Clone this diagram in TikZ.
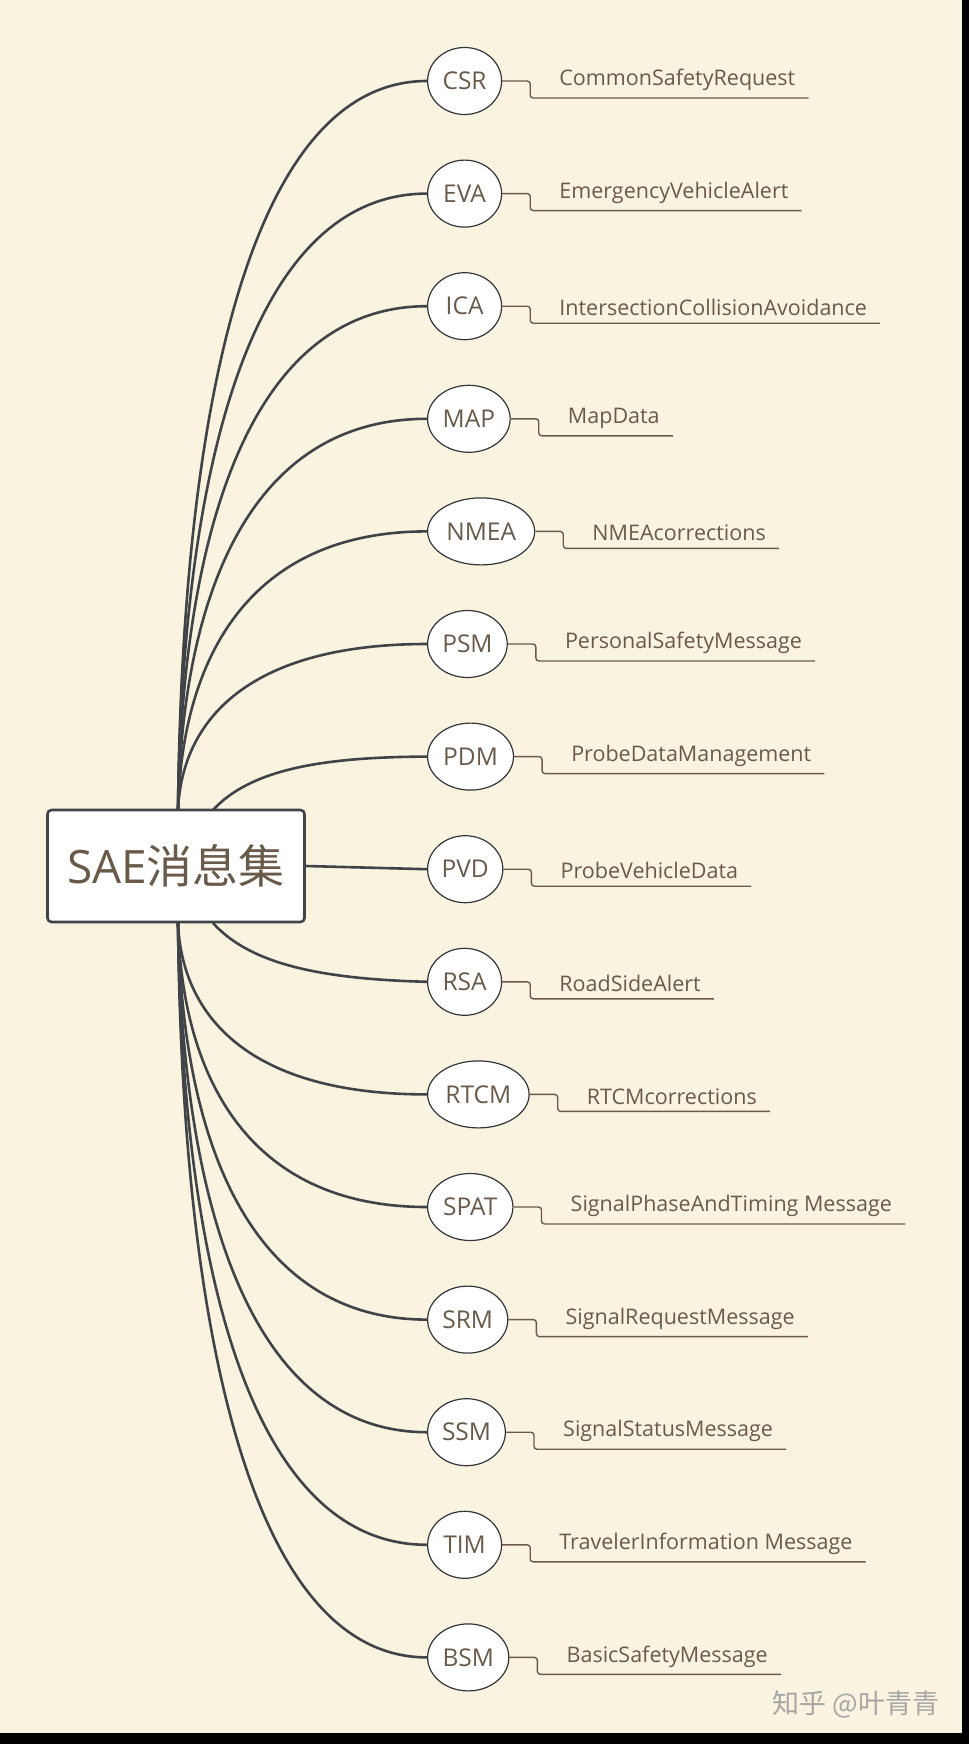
\documentclass[tikz,border=0pt]{standalone}
\usetikzlibrary{shapes.geometric}
\usepackage{fontspec}
\setmainfont{Open Sans}
\newfontfamily\cjk{Noto Sans CJK SC}
\begin{document}
\begin{tikzpicture}[x=1pt,y=-1pt,
  every node/.style={font=\fontsize{24.5}{26}\selectfont},
  leaf/.style={ellipse,draw=linec!80!black,line width=1.2pt,fill=white,text=textc,minimum height=67pt,minimum width=74pt,inner xsep=3pt,anchor=west},
  lab/.style={text=textc,font=\fontsize{21.5}{24}\selectfont,anchor=south west,inner xsep=0pt,inner ysep=7pt},
  branch/.style={draw=linec,line width=2.6pt},
  uline/.style={draw=textc,line width=1.4pt,rounded corners=3pt}]
\definecolor{bgc}{HTML}{FAF3DF}
\definecolor{textc}{HTML}{6A5A4A}
\definecolor{linec}{HTML}{404448}
\path[use as bounding box] (0,0) rectangle (969,1744);
\fill[bgc] (0,0) rectangle (969,1744);
\fill[black] (962,0) rectangle (969,1744);
\fill[black] (0,1733) rectangle (969,1744);
\node[draw=linec,line width=2.6pt,rounded corners=4pt,fill=white,text=textc,minimum width=257pt,minimum height=112pt,font=\fontsize{46}{50}\selectfont] (root) at (176,866) {SAE\cjk 消息集};
\coordinate (rt) at (178,810);
\coordinate (rb) at (178,923);
\coordinate (rt2) at (213,810);
\coordinate (rb2) at (213,923);
\foreach \n/\l [count=\i from 0] in {CSR/CommonSafetyRequest,EVA/EmergencyVehicleAlert,ICA/IntersectionCollisionAvoidance,MAP/MapData,NMEA/NMEAcorrections,PSM/PersonalSafetyMessage,PDM/ProbeDataManagement,PVD/ProbeVehicleData,RSA/RoadSideAlert,RTCM/RTCMcorrections,SPAT/SignalPhaseAndTiming Message,SRM/SignalRequestMessage,SSM/SignalStatusMessage,TIM/TravelerInformation Message,BSM/BasicSafetyMessage}{
  \pgfmathsetmacro\yy{81+112.6*\i}
  \node[leaf] (\n) at (427,\yy) {\n};
  \coordinate (\n b) at ([xshift=28pt,yshift=-17pt]\n.east);
  \node[lab] (\n l) at ([xshift=29pt]\n b) {\l};
  \draw[uline] (\n.east) -| (\n b) -- ([xshift=13pt]\n l.south east);
}
\foreach \n [count=\i from 0] in {CSR,EVA,ICA,MAP,NMEA,PSM}{
  \pgfmathsetmacro\yy{81+112.6*\i}
  \pgfmathsetmacro\cy{\yy+(810-\yy)*0.45}
  \draw[branch] (rt) .. controls (182,\cy) and (250,\yy) .. (\n.west);
}
\foreach \n [count=\i from 9] in {RTCM,SPAT,SRM,SSM,TIM,BSM}{
  \pgfmathsetmacro\yy{81+112.6*\i}
  \pgfmathsetmacro\cy{\yy-(\yy-923)*0.45}
  \draw[branch] (rb) .. controls (182,\cy) and (250,\yy) .. (\n.west);
}
\draw[branch] (rt2) .. controls (250,770) and (320,757) .. (PDM.west);
\draw[branch] (rb2) .. controls (250,964) and (320,979) .. (RSA.west);
\draw[branch] (root.east) -- (PVD.west);
\node[text=gray!70,font=\cjk\fontsize{27}{30}\selectfont,anchor=east] (wm) at (943,1704) {知乎 @叶青青};
\end{tikzpicture}
\end{document}
